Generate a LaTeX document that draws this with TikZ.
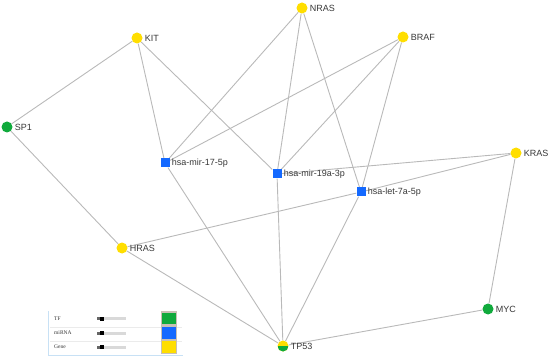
\documentclass[tikz,border=0pt]{standalone}
\usepackage{fontspec}
\setmainfont{Liberation Sans}
\newfontfamily\legfont{Liberation Serif}
\usetikzlibrary{backgrounds}
\definecolor{tfgreen}{RGB}{16,170,60}
\definecolor{mirblue}{RGB}{20,105,255}
\definecolor{geneyel}{RGB}{255,222,0}
\definecolor{edgegray}{RGB}{185,185,185}
\definecolor{lblgray}{RGB}{55,55,55}
\definecolor{legblue}{RGB}{200,225,245}
\definecolor{swbord}{RGB}{200,192,180}
\tikzset{
  x=1pt, y=-1pt,
  lbl/.style={font=\fontsize{9}{10}\selectfont, text=lblgray, inner sep=0.5pt, label distance=1.5pt},
  tf/.style={circle, fill=tfgreen, minimum size=11pt, inner sep=0pt},
  gene/.style={circle, fill=geneyel, minimum size=11pt, inner sep=0pt},
  mir/.style={rectangle, fill=mirblue, minimum size=9pt, inner sep=0pt},
  edge/.style={draw=edgegray, line width=0.9pt},
  legtxt/.style={font=\legfont\fontsize{5.5}{6}\selectfont, text=black!80, anchor=west, inner sep=0pt},
}
\begin{document}
\begin{tikzpicture}
\useasboundingbox (0,0) rectangle (550,361);
% nodes
\node[gene, label={[lbl]right:KIT}] (kit) at (137,38) {};
\node[gene, label={[lbl]right:NRAS}] (nras) at (302,8) {};
\node[gene, label={[lbl]right:BRAF}] (braf) at (403,37) {};
\node[tf, label={[lbl]right:SP1}] (sp1) at (7,127) {};
\node[mir, label={[lbl]right:hsa-mir-17-5p}] (m17) at (165,163) {};
\node[mir, label={[lbl]right:hsa-mir-19a-3p}] (m19) at (277,174) {};
\node[mir, label={[lbl]right:hsa-let-7a-5p}] (l7) at (361,192) {};
\node[gene, label={[lbl]right:KRAS}] (kras) at (516,153) {};
\node[gene, label={[lbl]right:HRAS}] (hras) at (122,248) {};
\node[tf, label={[lbl]right:MYC}] (myc) at (488,309) {};
\node[circle, fill=geneyel, minimum size=11pt, inner sep=0pt,
  path picture={\fill[tfgreen] (path picture bounding box.west) rectangle (path picture bounding box.south east);},
  label={[lbl]right:TP53}] (tp53) at (283,346) {};
% edges
\begin{scope}[on background layer]
\draw[edge] (sp1) -- (kit);
\draw[edge] (sp1) -- (hras);
\draw[edge] (kit) -- (m17);
\draw[edge] (kit) -- (m19);
\draw[edge] (nras) -- (m17);
\draw[edge] (nras) -- (m19);
\draw[edge] (nras) -- (l7);
\draw[edge] (braf) -- (m17);
\draw[edge] (braf) -- (m19);
\draw[edge] (braf) -- (l7);
\draw[edge] (kras) -- (m19);
\draw[edge] (kras) -- (l7);
\draw[edge] (kras) -- (myc);
\draw[edge] (hras) -- (l7);
\draw[edge] (hras) -- (tp53);
\draw[edge] (m17) -- (tp53);
\draw[edge] (m19) -- (tp53);
\draw[edge] (l7) -- (tp53);
\draw[edge] (myc) -- (tp53);
\end{scope}
% legend
\draw[legblue, line width=0.8pt] (48.5,311) -- (48.5,355) -- (183,355);
\draw[black!8, line width=0.5pt] (50,327) -- (182,327);
\draw[black!8, line width=0.5pt] (50,341) -- (182,341);
\node[legtxt] (ltf) at (54,318.5) {TF};
\node[legtxt] (lmir) at (54,333) {miRNA};
\node[legtxt] (lgene) at (54,347) {Gene};
\foreach \yy/\nm in {318.5/s1, 333/s2, 347/s3} {
  \fill[black!15] (97,\yy-1.5) rectangle (126,\yy+1.5);
  \fill[black!60] (97,\yy-1.5) rectangle (100,\yy+1.5);
  \fill[black] (100,\yy-2) rectangle (104,\yy+2);
}
\node[draw=swbord, fill=tfgreen, line width=1.2pt, minimum width=15pt, minimum height=13pt, inner sep=0pt] (sw1) at (169,318.5) {};
\node[draw=swbord, fill=mirblue, line width=1.2pt, minimum width=15pt, minimum height=13pt, inner sep=0pt] (sw2) at (169,333) {};
\node[draw=swbord, fill=geneyel, line width=1.2pt, minimum width=15pt, minimum height=13pt, inner sep=0pt] (sw3) at (169,347) {};
\end{tikzpicture}
\end{document}
